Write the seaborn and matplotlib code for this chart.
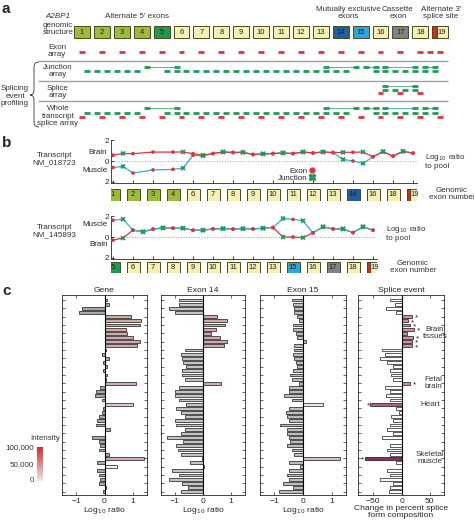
import numpy as np
import pandas as pd
import seaborn as sns
import matplotlib.pyplot as plt
from matplotlib.patches import Rectangle, PathPatch
from matplotlib.path import Path
from matplotlib.lines import Line2D
from matplotlib.colors import LinearSegmentedColormap
from matplotlib.transforms import blended_transform_factory

sns.set_style("ticks")
plt.rcParams['font.family'] = ['Liberation Sans', 'DejaVu Sans']
plt.rcParams['font.size'] = 5.8
plt.rcParams['axes.linewidth'] = 0.6
FS = 5.8

# ---------------- data ----------------
# panel a: A2BP1 exons and array probes
exons_a = list(range(1, 20))
extra_exon_probe = [17.5]            # alternate 3' splice site probe (exon index units)
junc_lower = [(1, 2), (2, 3), (3, 4), (5, 6), (6, 7), (7, 8), (8, 9), (9, 10), (10, 11),
              (11, 12), (12, 13), (13, 14), (14, 16), (16, 17), (17, 18), (18, 19)]
junc_upper = [(4, 6), (13, 15), (15, 16), (16, 18), (18, 19)]
splice_lower = [(16, 17), (17, 18)]
splice_upper = [(16, 18)]
splice_exons = [16, 17, 18]

# panel b: transcript NM_018723 (brain up, muscle down)
b1_exons = [1, 2, 3, 4, 6, 7, 8, 9, 10, 11, 12, 13, 14, 16, 18, 19]
b1_junc_pos = [0.5, 3.5, 4.5, 5.5, 6.5, 7.5, 8.5, 9.5, 10.5, 11.5, 12.5, 13.5, 14.5]
b1_brain_exon = [0.55, 0.7, 0.85, 0.85, 0.7, 0.72, 0.83, 0.62, 0.71, 0.71, 0.77, 0.8, 0.83, 0.4, 0.46, 0.75]
b1_brain_junc = [0.72, 0.86, 0.55, 0.86, 0.83, 0.68, 0.77, 0.86, 0.86, 0.83, 0.86, 0.89, 0.92]
b1_muscle_exon = [-0.62, -1.15, -0.85, -0.8, 0.55, 0.7, 0.8, 0.62, 0.71, 0.71, 0.77, 0.8, 0.0, 0.4, 0.46, 0.75]
b1_muscle_junc = [-0.52, -0.68, 0.5, 0.86, 0.83, 0.68, 0.77, 0.86, 0.86, 0.15, -0.22, 0.89, 0.92]

# panel b: transcript NM_145893 (muscle up, brain down)
b2_exons = [5, 6, 7, 8, 9, 10, 11, 12, 13, 15, 16, 17, 18, 19]
b2_junc_pos = [0.5, 1.5, 2.5, 3.5, 4.5, 5.5, 6.5, 7.5, 8.5, 9.5, 10.5, 11.5, 12.5]
b2_muscle_exon = [1.6, 0.65, 0.75, 0.84, 0.65, 0.77, 0.75, 0.77, 0.9, 1.68, 0.39, 0.77, 0.42, 0.65]
b2_muscle_junc = [1.7, 0.5, 0.87, 0.84, 0.65, 0.8, 0.8, 0.84, 1.77, 1.55, 0.97, 0.77, 0.97]
b2_brain_exon = [-0.3, 0.65, 0.75, 0.84, 0.65, 0.77, 0.75, 0.77, 0.9, 0.0, 0.39, 0.77, 0.42, 0.65]
b2_brain_junc = [-0.1, 0.5, 0.87, 0.84, 0.65, 0.8, 0.8, 0.84, 0.0, -0.06, 0.97, 0.77, 0.97]

# panel c: 47 tissues
gene_ratio = [0.1, 0.15, -0.8, -0.9, 0.95, 1.3, 1.25, 0.75, 0.78, 1.0, 1.25, 1.15, 0.05, -0.1,
              0.15, -0.05, 0.1, -0.05, 0.1, 0.05, 1.1, -0.15, -0.3, -0.35, -0.1, 1.0, -0.05,
              -0.1, -0.2, -0.25, -0.3, 0.2, 0.0, -0.45, -0.2, -0.15, -0.2, 0.15, 1.4, -0.25,
              0.45, -0.25, -0.2, -0.15, -0.2, 0.05, -0.05]
exon14_ratio = [-0.85, -0.85, -1.2, -1.0, 0.5, 0.85, 0.8, 0.45, 0.3, 0.6, 0.85, 0.75, -0.65,
                -0.8, -0.75, -0.7, -0.6, -0.75, -0.75, -0.65, 0.65, -0.85, -1.0, -1.0, -0.85,
                -0.6, -0.95, -0.8, -0.65, -1.0, -0.95, -0.65, -0.8, -1.3, -0.7, -0.95, -0.9,
                -0.8, -0.05, -0.45, 0.02, -1.1, -0.85, -1.2, -0.75, -0.55, -0.8]
exon15_ratio = [-0.4, -0.35, -0.3, -0.3, -0.2, -0.15, -0.35, -0.35, -0.25, -0.2, 0.1, -0.3,
                -0.3, -0.35, -0.3, -0.25, -0.2, -0.35, -0.45, -0.4, -0.15, -0.5, -0.5, -0.65,
                -0.4, 0.7, -0.5, -0.6, -0.55, -0.5, -0.8, -0.55, -0.55, -0.5, -0.45, -0.55,
                -0.4, -0.3, 1.3, -0.5, -0.1, -0.5, -0.55, -0.5, -0.7, -0.35, -0.85]
splice_change = [-20, -12, -28, -10, 18, 12, 15, 22, 10, 20, 18, 18, -35, -30, -38, -25, -15,
                 -20, -18, -15, 15, -30, -20, -28, -20, -55, -10, -5, -18, -15, -20, -25, -15,
                 -35, 0, -20, -25, -20, -65, -10, 0, -25, -20, -38, -15, -20, -22]
brain_rows = [4, 5, 6, 7, 8, 9, 10, 11]
fetal_brain_row = 20
heart_row = 25
muscle_row = 38
star_rows = [4, 5, 6, 7, 9, 10, 11, 20, 25, 38]

# ---------------- styling ----------------
RED = '#e0343c'
GREEN = '#1f9a5a'
CYAN = '#2bb3c8'
EDGE = '#4a4a1a'
TXT = '#333333'
exon_fill = {1: '#9cba3c', 2: '#9cba3c', 3: '#9cba3c', 4: '#9cba3c', 5: '#1d9a4c',
             14: '#1f5fa5', 15: '#2aa8df', 17: '#808285'}

W, H = 474, 524
fig = plt.figure(figsize=(W / 100, H / 100), dpi=100)


def px_axes(l, t, r, b):
    return fig.add_axes([l / W, 1 - b / H, (r - l) / W, (b - t) / H])


def draw_box(ax, x, y, w, h, num):
    ax.add_patch(Rectangle((x - w / 2, y), w, h, fc=exon_fill.get(num, '#f6f0b4'), ec=EDGE, lw=0.7))
    if num == 19:
        ax.add_patch(Rectangle((x - w / 2, y), w * 0.3, h, fc='#d9262e', ec=EDGE, lw=0.7))
    ax.text(x + (w * 0.12 if num == 19 else 0), y + h / 2, str(num), ha='center', va='center',
            fontsize=5.5, color='#222222')


def dash(ax, x, y, color):
    ax.plot([x - 0.15, x + 0.15], [y, y], color=color, lw=2, solid_capstyle='butt')


def draw_junctions(ax, pairs, y, connect):
    for a, b in pairs:
        xa, xb = a - 1 + 0.25, b - 1 - 0.25
        if connect:
            ax.plot([xa, xb], [y, y], color=GREEN, lw=0.5)
        dash(ax, xa, y, GREEN)
        dash(ax, xb, y, GREEN)


# ---------------- panel a ----------------
ax_a = fig.add_axes([0, 1 - 130 / H, 1, 130 / H])
ax_a.set_xlim(-82 / 19.9, (W - 82) / 19.9)
ax_a.set_ylim(130, 0)
ax_a.axis('off')

for i, num in enumerate(exons_a):
    draw_box(ax_a, i, 26, 0.8, 12, num)
    dash(ax_a, i, 52, RED)
    dash(ax_a, i, 117, RED)
for x in extra_exon_probe:
    dash(ax_a, x, 52, RED)
draw_junctions(ax_a, junc_lower, 71, False)
draw_junctions(ax_a, junc_upper, 67, True)
draw_junctions(ax_a, junc_lower, 112.5, False)
draw_junctions(ax_a, junc_upper, 108, True)
draw_junctions(ax_a, splice_lower, 89.5, False)
draw_junctions(ax_a, splice_upper, 86, True)
for num in splice_exons:
    dash(ax_a, num - 1, 93, RED)

# ---------------- panel b ----------------
def profile(ax, box_ax, exons, junc_pos, up_exon, up_junc, dn_exon, dn_junc,
            up_color, dn_color, up_label, dn_label, up_y, dn_y):
    n = len(exons)
    for vals_e, vals_j, col in [(dn_exon, dn_junc, dn_color), (up_exon, up_junc, up_color)]:
        df = pd.DataFrame({'pos': list(range(n)) + list(junc_pos), 'val': list(vals_e) + list(vals_j)})
        sns.lineplot(data=df, x='pos', y='val', ax=ax, color=col, lw=0.9, sort=True, estimator=None)
    for vals_e, vals_j in [(dn_exon, dn_junc), (up_exon, up_junc)]:
        sns.scatterplot(x=list(range(n)), y=vals_e, ax=ax, color=RED, s=7, marker='o',
                        edgecolor='none', zorder=4)
        sns.scatterplot(x=junc_pos, y=vals_j, ax=ax, color=GREEN, s=14, marker='X',
                        edgecolor='none', zorder=5)
    ax.axhline(0, color='#c99090', ls=':', lw=0.7, zorder=0)
    ax.set_xlim(-0.1, n - 0.8)
    ax.set_ylim(-2.05, 2.05)
    ax.set_xticks(range(n))
    ax.set_xticklabels([])
    ax.set_yticks([-2, 0, 2])
    ax.set_yticklabels(['2', '0', '2'])
    ax.tick_params(direction='in', length=2.5, width=0.6, pad=1.5, labelsize=FS)
    ax.set_xlabel('')
    ax.set_ylabel('')
    sns.despine(ax=ax)
    tr = blended_transform_factory(ax.transAxes, ax.transData)
    ax.text(-0.012, up_y, up_label, transform=tr, ha='right', va='center', fontsize=FS)
    ax.text(-0.012, dn_y, dn_label, transform=tr, ha='right', va='center', fontsize=FS)

    box_ax.set_xlim(ax.get_xlim())
    box_ax.set_ylim(0, 1)
    box_ax.axis('off')
    for i, num in enumerate(exons):
        draw_box(box_ax, i, 0, 0.65, 1, num)


ax_b1 = px_axes(111, 139.5, 417, 182.5)
box_b1 = px_axes(111, 189, 417, 201)
profile(ax_b1, box_b1, b1_exons, b1_junc_pos, b1_brain_exon, b1_brain_junc,
        b1_muscle_exon, b1_muscle_junc, RED, CYAN, 'Brain', 'Muscle', 0.8, -0.95)

ax_b2 = px_axes(111, 215.5, 377, 258.5)
box_b2 = px_axes(111, 262, 377, 273)
profile(ax_b2, box_b2, b2_exons, b2_junc_pos, b2_muscle_exon, b2_muscle_junc,
        b2_brain_exon, b2_brain_junc, CYAN, RED, 'Muscle', 'Brain', 1.15, -0.7)

ax_b1.legend(handles=[Line2D([], [], marker='o', color=RED, ls='', ms=3.5, label='Exon'),
                      Line2D([], [], marker='X', color=GREEN, ls='', ms=4.5, label='Junction')],
             markerfirst=False, frameon=False, loc='upper right',
             bbox_to_anchor=(318 / W, 1 - 163 / H), bbox_transform=fig.transFigure,
             handletextpad=0.2, labelspacing=-0.1, borderpad=0, handlelength=0.6, fontsize=FS)

# ---------------- panel c ----------------
rows = list(range(len(gene_ratio)))


def row_colors(base, overrides):
    return {r: overrides.get(r, base) for r in rows}


pink = '#d8a3a6'
gene_cols = row_colors('#a9a9a9', {**{r: pink for r in brain_rows}, fetal_brain_row: pink,
                                   heart_row: '#e6c4c4', muscle_row: pink, 40: '#f7f1f1'})
ex14_cols = row_colors('#c4c4c4', {**{r: pink for r in brain_rows}, fetal_brain_row: pink})
ex15_cols = row_colors('#bdbdbd', {heart_row: '#f5e6e6', muscle_row: '#e2b8b8'})
splice_cols = row_colors('white', {**{r: '#d884a8' for r in brain_rows}, fetal_brain_row: '#d884a8',
                                   heart_row: '#c44b8a', muscle_row: '#a3166a'})

panels = [
    ((62, 147), gene_ratio, gene_cols, 'Gene', 'Log$_{10}$ ratio', (-1.5, 1.5), [-1, 0, 1]),
    ((161, 245), exon14_ratio, ex14_cols, 'Exon 14', 'Log$_{10}$ ratio', (-1.5, 1.5), [-1, 0, 1]),
    ((260, 346), exon15_ratio, ex15_cols, 'Exon 15', 'Log$_{10}$ ratio', (-1.5, 1.5), [-1, 0, 1]),
    ((358, 444), splice_change, splice_cols, 'Splice event',
     'Change in percent splice\nform composition', (-77, 75), [-50, 0, 50]),
]
c_axes = []
for (l, r), vals, cols, title, xlabel, xlim, xticks in panels:
    ax = px_axes(l, 295, r, 495)
    df = pd.DataFrame({'row': rows, 'val': vals})
    sns.barplot(data=df, x='val', y='row', hue='row', palette=cols, orient='h', legend=False,
                ax=ax, width=0.7, edgecolor='black', linewidth=0.45)
    ax.axvline(0, color='black', lw=0.8)
    ax.set_xlim(*xlim)
    ax.set_ylim(46.8, -1.2)
    ax.set_yticks(range(0, len(rows), 2))
    ax.set_yticklabels([])
    ax.set_xticks(xticks)
    ax.set_xticklabels([str(t).replace('-', '\u2212') for t in xticks])
    ax.tick_params(direction='in', length=2.5, width=0.5, pad=2, labelsize=FS + 0.3,
                   left=True, right=True, top=True, bottom=True)
    ax.set_title(title, fontsize=FS + 0.3, pad=2)
    ax.set_xlabel(xlabel, fontsize=FS + 0.3, labelpad=0.5, linespacing=1.0)
    ax.set_ylabel('')
    c_axes.append(ax)

ax_s = c_axes[3]
for r in star_rows:
    v = splice_change[r]
    ax_s.text(v + 8 if v > 0 else v - 4, r + 0.4, '*', ha='center', va='center', fontsize=6)

# intensity colour scale
cmap_int = LinearSegmentedColormap.from_list('intensity', ['#f2e4e4', '#d42a35'])
cax = px_axes(37, 447, 43, 481)
cax.imshow(np.linspace(1, 0, 100)[:, None], aspect='auto', cmap=cmap_int)
cax.set_xticks([])
cax.set_yticks([])
for s in cax.spines.values():
    s.set_visible(False)

# ---------------- free text ----------------
ax_t = fig.add_axes([0, 0, 1, 1])
ax_t.set_xlim(0, W)
ax_t.set_ylim(H, 0)
ax_t.axis('off')
txt = dict(fontsize=FS, color=TXT, ha='center', va='center', linespacing=1.05)

ax_t.text(2, 9, 'a', fontsize=11, fontweight='bold', va='center')
ax_t.text(2, 143, 'b', fontsize=11, fontweight='bold', va='center')
ax_t.text(2, 291, 'c', fontsize=11, fontweight='bold', va='center')

ax_t.text(58, 17, 'A2BP1', style='italic', **txt)
ax_t.text(58, 29, 'genomic\nstructure', **txt)
ax_t.text(137, 17, 'Alternate 5\u2032 exons', **txt)
ax_t.text(348, 13, 'Mutually exclusive\nexons', **txt)
ax_t.text(398, 13, 'Cassette\nexon', **txt)
ax_t.text(441, 13, 'Alternate 3\u2032\nsplice site', **txt)
ax_t.text(57, 51, 'Exon\narray', **txt)
ax_t.text(58, 71, 'Junction\narray', **txt)
ax_t.text(58, 92, 'Splice\narray', **txt)
ax_t.text(58, 116, 'Whole\ntranscript\nsplice array', **txt)
ax_t.text(15, 96, 'Splicing\nevent\nprofiling', **txt)
ax_t.hlines([61, 81, 101], 38, 448, color='#a0a0a0', lw=1)
brace = Path([(39, 62), (34, 62), (34, 67), (34, 90), (34, 95), (30, 95), (34, 95), (34, 100),
              (34, 122), (34, 127), (39, 127)],
             [Path.MOVETO, Path.CURVE3, Path.CURVE3, Path.LINETO, Path.CURVE3, Path.CURVE3,
              Path.CURVE3, Path.CURVE3, Path.LINETO, Path.CURVE3, Path.CURVE3])
ax_t.add_patch(PathPatch(brace, fc='none', ec=TXT, lw=0.6))

ax_t.text(54, 159, 'Transcript\nNM_018723', **txt)
ax_t.text(54, 231, 'Transcript\nNM_145893', **txt)
ax_t.text(425, 161, 'Log$_{10}$ ratio\nto pool', fontsize=FS, color=TXT, ha='left', va='center', linespacing=1.1)
ax_t.text(452, 194, 'Genomic\nexon number', **txt)
ax_t.text(386, 233, 'Log$_{10}$ ratio\nto pool', fontsize=FS, color=TXT, ha='left', va='center', linespacing=1.1)
ax_t.text(413, 267, 'Genomic\nexon number', **txt)

ax_t.text(45, 438, 'Intensity', **txt)
ax_t.text(34, 448, '100,000', fontsize=FS, color=TXT, ha='right', va='center')
ax_t.text(34, 465, '50,000', fontsize=FS, color=TXT, ha='right', va='center')
ax_t.text(34, 481, '0', fontsize=FS, color=TXT, ha='right', va='center')

ax_t.text(435, 333, 'Brain\ntissues', **txt)
ax_t.text(433, 383, 'Fetal\nbrain', **txt)
ax_t.text(430, 404, 'Heart', **txt)
ax_t.text(430, 458, 'Skeletal\nmuscle', **txt)

fig.savefig('out.png', dpi=100)
